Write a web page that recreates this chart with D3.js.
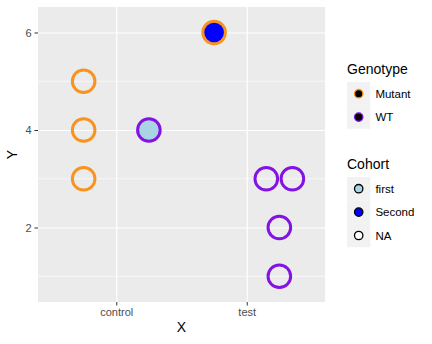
<!DOCTYPE html>
<html>
<head>
<meta charset="utf-8">
<script src="https://cdn.jsdelivr.net/npm/d3@7"></script>
<style>
  body { margin: 0; background: #fff; }
  text { font-family: "Liberation Sans", Arial, sans-serif; }
</style>
</head>
<body>
<div id="chart"></div>
<script>
// Data
const categories = ["control", "test"];
const pointX = ["control", "control", "control", "control", "test", "test", "test", "test", "test"];
const pointDodge = [-0.25, -0.25, -0.25, 0.25, -0.25, 0.15, 0.35, 0.25, 0.25];
const pointY = [5, 4, 3, 4, 6, 3, 3, 2, 1];
const pointGenotype = ["Mutant", "Mutant", "Mutant", "WT", "Mutant", "WT", "WT", "WT", "WT"];
const pointCohort = [null, null, null, "first", "Second", null, null, null, null];
const yTicks = [2, 4, 6];
const yMinor = [1, 3, 5];
const genotypes = ["Mutant", "WT"];
const cohorts = ["first", "Second", "NA"];

const width = 432;
const height = 344;
const panel = { left: 38, right: 325, top: 7, bottom: 302 };

const svg = d3.select("#chart")
  .append("svg")
    .attr("width", width)
    .attr("height", height);

// Scales
const catScale = d3.scalePoint()
  .domain(categories)
  .range([1, 2]);
const xScale = d3.scaleLinear()
  .domain([0.4, 2.6])
  .range([panel.left, panel.right]);
const yScale = d3.scaleLinear()
  .domain([0.472, 6.523])
  .range([panel.bottom, panel.top]);
const genoColor = d3.scaleOrdinal()
  .domain(genotypes)
  .range(["#F7931E", "#8312E4"]);
const cohortFill = d3.scaleOrdinal()
  .domain(cohorts)
  .range(["#A8D4E3", "#0000FF", "#FFFFFF"]);

// Panel background
svg.append("rect")
  .attr("x", panel.left)
  .attr("y", panel.top)
  .attr("width", panel.right - panel.left)
  .attr("height", panel.bottom - panel.top)
  .attr("fill", "#EBEBEB");

// Minor grid
svg.append("g")
  .selectAll("line")
  .data(yMinor)
  .join("line")
    .attr("x1", panel.left)
    .attr("x2", panel.right)
    .attr("y1", d => yScale(d))
    .attr("y2", d => yScale(d))
    .attr("stroke", "#fff")
    .attr("stroke-width", 0.6);

// Axes (ticks + major grid)
const leftAxis = d3.axisLeft(yScale)
  .tickValues(yTicks)
  .tickFormat(d3.format("d"))
  .tickSize(3.5)
  .tickPadding(3);
const gy = svg.append("g")
  .attr("transform", `translate(${panel.left}, 0)`)
  .call(leftAxis);
gy.select(".domain").remove();
gy.selectAll(".tick line").attr("stroke", "#333");
gy.selectAll(".tick text").attr("fill", "#4D4D4D").attr("font-size", 11);
gy.selectAll(".tick").append("line")
  .attr("x1", 0)
  .attr("x2", panel.right - panel.left)
  .attr("stroke", "#fff")
  .attr("stroke-width", 1.2);

const bottomAxis = d3.axisBottom(xScale)
  .tickValues(categories.map(c => catScale(c)))
  .tickFormat((d, i) => categories[i])
  .tickSize(3.5)
  .tickPadding(3);
const gx = svg.append("g")
  .attr("transform", `translate(0, ${panel.bottom})`)
  .call(bottomAxis);
gx.select(".domain").remove();
gx.selectAll(".tick line").attr("stroke", "#333");
gx.selectAll(".tick text").attr("fill", "#4D4D4D").attr("font-size", 11);
gx.selectAll(".tick").append("line")
  .attr("y1", 0)
  .attr("y2", -(panel.bottom - panel.top))
  .attr("stroke", "#fff")
  .attr("stroke-width", 1.2);

// Axis titles
svg.append("text")
  .attr("x", (panel.left + panel.right) / 2)
  .attr("y", 332)
  .attr("text-anchor", "middle")
  .attr("font-size", 14)
  .text("X");
svg.append("text")
  .attr("transform", `translate(17, ${(panel.top + panel.bottom) / 2}) rotate(-90)`)
  .attr("text-anchor", "middle")
  .attr("font-size", 14)
  .text("Y");

// Points
const points = pointY.map((y, i) => ({
  x: catScale(pointX[i]) + pointDodge[i],
  y: y,
  genotype: pointGenotype[i],
  cohort: pointCohort[i]
}));
svg.append("g")
  .selectAll("circle")
  .data(points)
  .join("circle")
    .attr("cx", d => xScale(d.x))
    .attr("cy", d => yScale(d.y))
    .attr("r", 11.3)
    .attr("fill", d => d.cohort ? cohortFill(d.cohort) : "none")
    .attr("stroke", d => genoColor(d.genotype))
    .attr("stroke-width", 3);

// Legends
const legendX = 347;
const keySize = 23.4;
const drawLegend = (title, titleY, items, fill, stroke) => {
  const g = svg.append("g");
  g.append("text")
    .attr("x", legendX)
    .attr("y", titleY)
    .attr("font-size", 14)
    .text(title);
  const top = titleY + 8;
  items.forEach((item, i) => {
    const y = top + i * keySize;
    g.append("rect")
      .attr("x", legendX)
      .attr("y", y)
      .attr("width", keySize)
      .attr("height", keySize)
      .attr("fill", "#F2F2F2");
    g.append("circle")
      .attr("cx", legendX + keySize / 2)
      .attr("cy", y + keySize / 2)
      .attr("r", 4.2)
      .attr("fill", fill(item))
      .attr("stroke", stroke(item))
      .attr("stroke-width", 1.3);
    g.append("text")
      .attr("x", legendX + keySize + 5)
      .attr("y", y + keySize / 2)
      .attr("dy", "0.35em")
      .attr("font-size", 11.5)
      .text(item);
  });
};
drawLegend("Genotype", 74, genotypes, () => "#000", d => genoColor(d));
drawLegend("Cohort", 169, cohorts, d => cohortFill(d), () => "#000");
</script>
</body>
</html>
